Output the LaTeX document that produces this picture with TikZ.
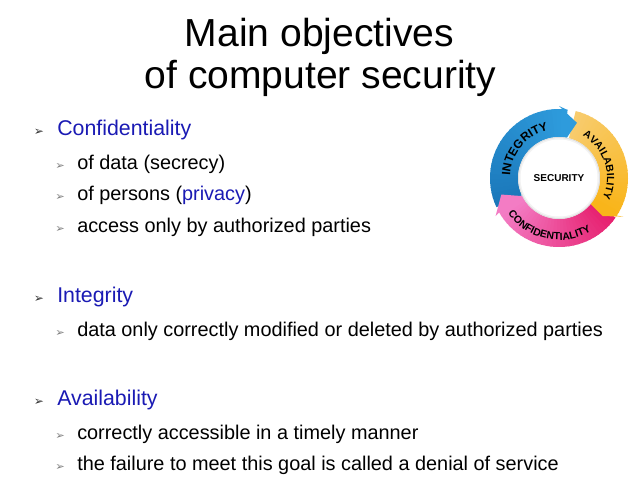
\documentclass[tikz,border=0pt]{standalone}
\usepackage{fontspec}
\setmainfont{Liberation Sans}
\newfontfamily\dv{DejaVu Sans}
\usetikzlibrary{decorations.text}
\definecolor{headblue}{HTML}{1A1AB4}
\definecolor{bluea}{HTML}{1B78BA}\definecolor{blueb}{HTML}{2E9BDC}
\definecolor{yela}{HTML}{F8CC6E}\definecolor{yelb}{HTML}{F9B51A}
\definecolor{pinka}{HTML}{E61F6E}\definecolor{pinkb}{HTML}{F37CC4}
\tikzset{
 title/.style={anchor=base,font=\fontsize{29.3}{32}\selectfont,inner sep=0},
 main/.style={anchor=base west,font=\fontsize{16}{18}\selectfont,text=headblue,inner sep=0},
 sub/.style={anchor=base west,font=\fontsize{14.9}{16}\selectfont,inner sep=0},
 bul/.style={anchor=base,font=\dv\fontsize{9}{10}\selectfont,inner sep=0,text=black!80},
 subbul/.style={anchor=base,font=\dv\fontsize{8.5}{10}\selectfont,inner sep=0,text=black!50}
}
% start, end, colour from, colour to
\newcommand{\ringbody}[4]{%
 \foreach \i in {0,...,29}{%
  \pgfmathsetmacro{\aa}{#1+(#2-#1)*\i/30}%
  \pgfmathsetmacro{\bb}{#1+(#2-#1)*(\i+1.3)/30}%
  \pgfmathtruncatemacro{\pp}{100-\i*100/29}%
  \fill[#3!\pp!#4] (\aa:69) arc[start angle=\aa,end angle=\bb,radius=69] -- (\bb:41) arc[start angle=\bb,end angle=\aa,radius=41] -- cycle;
 }}
\begin{document}
\begin{tikzpicture}[x=0.75pt,y=0.75pt]
\useasboundingbox (0,0) rectangle (638,479);
\fill[white] (0,0) rectangle (638,479);
\node[title] (t1) at (319.5,432) {Main objectives};
\node[title] (t2) at (320.5,390) {of computer security};

\node[bul] (b1) at (39,343) {➢};
\node[main] (m1) at (57,343) {Confidentiality};
\node[subbul] (s1) at (60,310) {➢};
\node[sub] (l1) at (77,310) {of data (secrecy)};
\node[subbul] (s2) at (60,279) {➢};
\node[sub] (l2) at (77,279) {of persons (\textcolor{headblue}{privacy})};
\node[subbul] (s3) at (60,247) {➢};
\node[sub] (l3) at (77,247) {access only by authorized parties};

\node[bul] (b2) at (39,177) {➢};
\node[main] (m2) at (57,177) {Integrity};
\node[subbul] (s4) at (60,143) {➢};
\node[sub] (l4) at (77,143) {data only correctly modified or deleted by authorized parties};

\node[bul] (b3) at (39,74) {➢};
\node[main] (m3) at (57,74) {Availability};
\node[subbul] (s5) at (60,40) {➢};
\node[sub] (l5) at (77,40) {correctly accessible in a timely manner};
\node[subbul] (s6) at (60,9) {➢};
\node[sub] (l6) at (77,9) {the failure to meet this goal is called a denial of service};

\begin{scope}[shift={(559,301)}]
 \ringbody{205}{84}{bluea}{blueb}
 \ringbody{76}{-33}{yela}{yelb}
 \ringbody{-35}{-150}{pinka}{pinkb}
 \fill[blueb] (90:72) -- (72:58) -- (79:41) -- (84:41) -- (84:69) -- cycle;
 \fill[yelb] (-31:75) -- (-41:58) -- (-39:38) -- (-33:41) -- (-33:69) -- cycle;
 \fill[pinkb] (211:74) -- (196:60) -- (211:36) -- (210:41) -- (210:69) -- cycle;
 \fill[black!12] (0,0) circle (41);
 \fill[black!5] (0,0) circle (40);
 \fill[white] (0,0) circle (38.5);
 \node[font=\bfseries\fontsize{7.5}{9}\selectfont,inner sep=0] (sec) at (0,0) {SECURITY};
 \path[postaction={decorate},decoration={text along path,text align=center,
   text={|\bfseries\fontsize{9}{9}\selectfont|INTEGRITY}}]
   (190:49) arc[start angle=190,end angle=90,radius=49];
 \path[postaction={decorate},decoration={text along path,text align=center,
   text={|\bfseries\fontsize{7.8}{9}\selectfont|AVAILABILITY}}]
   (68:48) arc[start angle=68,end angle=-32,radius=48];
 \path[postaction={decorate},decoration={text along path,text align=center,
   text={|\bfseries\fontsize{7.8}{9}\selectfont|CONFIDENTIALITY}}]
   (198:62) arc[start angle=198,end angle=318,radius=62];
\end{scope}
\end{tikzpicture}
\end{document}
